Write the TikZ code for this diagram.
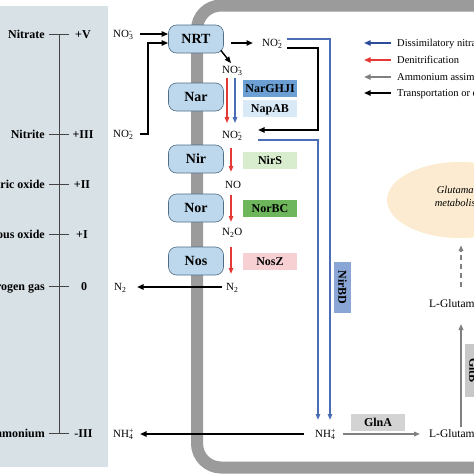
\documentclass[tikz,border=0pt]{standalone}
\usepackage{fontspec}
\setmainfont{Liberation Serif}
\usetikzlibrary{arrows.meta,shapes.geometric,calc}
\definecolor{panelc}{HTML}{D8E1E6}
\definecolor{cellgray}{HTML}{9B9B9B}
\definecolor{nodefill}{HTML}{BDD8EC}
\definecolor{nodeline}{HTML}{4F6D86}
\definecolor{narblue}{HTML}{6C9FD3}
\definecolor{napblue}{HTML}{D9E9F6}
\definecolor{nirgreen}{HTML}{D8EDCE}
\definecolor{norgreen}{HTML}{6DB65C}
\definecolor{nospink}{HTML}{F7D0D4}
\definecolor{nirbdblue}{HTML}{8AA6D6}
\definecolor{glnagray}{HTML}{D3D3D3}
\definecolor{gltgray}{HTML}{C8C8C8}
\definecolor{ellfill}{HTML}{FCEBD0}
\definecolor{dnrablue}{HTML}{4A6DB5}
\definecolor{legblue}{HTML}{2C4C9C}
\definecolor{denred}{HTML}{E53935}
\definecolor{assgray}{HTML}{808080}
\definecolor{axisc}{HTML}{444444}
\newcommand\chemss[2]{\makebox[0pt][l]{\textsuperscript{#2}}\textsubscript{#1}\hspace{1.5pt}}
\newcommand\chemsb[1]{\textsubscript{#1}}
\begin{document}
\begin{tikzpicture}[x=1pt,y=-1pt,
  tip/.style={-{Triangle[length=6.5pt,width=5.2pt]}},
  blk/.style={tip, line width=1.8pt, black},
  redar/.style={-{Triangle[length=6pt,width=4.4pt]}, line width=1.6pt, denred},
  bluear/.style={-{Triangle[length=6pt,width=4.4pt]}, line width=1.5pt, dnrablue},
  grayar/.style={-{Triangle[length=6pt,width=4.6pt]}, line width=1.6pt, assgray},
  lab/.style={inner sep=0pt, text height=8.1pt, text depth=0pt, font=\fontsize{12}{12}\selectfont\bfseries},
  chem/.style={inner sep=0pt, text height=7.3pt, text depth=0pt, font=\fontsize{11}{11}\selectfont, anchor=west},
  big/.style={inner sep=0pt, text height=7.8pt, text depth=0pt, font=\fontsize{11.5}{11.5}\selectfont, anchor=west},
  cellnode/.style={draw=nodeline, line width=0.6pt, fill=nodefill, rounded corners=8pt,
     minimum width=55pt, minimum height=28pt, inner sep=0pt, text height=9.5pt, text depth=0pt,
     font=\fontsize{14}{14}\selectfont\bfseries},
  enz/.style={minimum width=54pt, minimum height=17pt, inner sep=0pt, text height=8.1pt, text depth=0pt,
     font=\fontsize{12}{12}\selectfont\bfseries},
  legtext/.style={inner sep=0pt, text height=7pt, text depth=0pt, font=\fontsize{10.5}{10.5}\selectfont, anchor=west},
  tick/.style={axisc, line width=0.9pt}
]
\useasboundingbox (0,0) rectangle (474,474);
\clip (0,0) rectangle (474,474);
\fill[white] (0,0) rectangle (474,474);
% left panel
\fill[panelc] (-5,6) rectangle (108,467);
\draw[tick] (59,34) -- (59,433);
\foreach \yy in {34,134,184,234,286,433} { \draw[tick] (49,\yy) -- (69,\yy); }
\node[lab, anchor=east] (lnitrate) at (45,34) {Nitrate};
\node[lab, anchor=east] (lnitrite) at (45,134) {Nitrite};
\node[lab, anchor=east] (lno) at (45,184) {Nitric oxide};
\node[lab, anchor=east] (ln2o) at (45,234) {Nitrous oxide};
\node[lab, anchor=east] (ln2) at (45,286) {Nitrogen gas};
\node[lab, anchor=east] (lnh4) at (45,433) {Ammonium};
\node[lab] (vnitrate) at (83,34) {+V};
\node[lab] (vnitrite) at (83,134) {+III};
\node[lab] (vno) at (82,184) {+II};
\node[lab] (vn2o) at (82,234) {+I};
\node[lab] (vn2) at (84,286) {0};
\node[lab] (vnh4) at (83.5,433) {-III};
% cell
\draw[cellgray, line width=12pt, rounded corners=24pt] (197,5.5) rectangle (560,467.5);
% ellipse
\node[ellipse, fill=ellfill, minimum width=146pt, minimum height=76pt] (glmet) at (460,200) {};
\node[align=center, inner sep=0pt, font=\fontsize{10.5}{13}\selectfont\itshape] (glmettext) at (459,196.5) {Glutamate\\metabolism};
% chemical texts
\node[chem] (no3l) at (113,34) {NO\chemss{3}{-}};
\node[chem] (no2l) at (113,134) {NO\chemss{2}{-}};
\node[chem] (n2l) at (114,287) {N\chemsb{2}};
\node[chem] (nh4l) at (113,434) {NH\chemss{4}{+}};
\node[chem] (no2r) at (262,43) {NO\chemss{2}{-}};
\node[chem] (no3m) at (222,70) {NO\chemss{3}{-}};
\node[chem] (no2m) at (222,135) {NO\chemss{2}{-}};
\node[chem] (no) at (225,185) {NO};
\node[chem] (n2o) at (222,232) {N\chemsb{2}O};
\node[chem] (n2r) at (226,287) {N\chemsb{2}};
\node[chem] (nh4r) at (315,434) {NH\chemss{4}{+}};
\node[big] (lglnb) at (429,434) {L-Glutamine};
\node[big] (lglut) at (429,304) {L-Glutamate};
% cell nodes
\node[cellnode] (nrt) at (196,39) {NRT};
\node[cellnode] (nar) at (196,97) {Nar};
\node[cellnode] (nir) at (196,159) {Nir};
\node[cellnode] (nor) at (196,208) {Nor};
\node[cellnode] (nos) at (196,261) {Nos};
% enzyme boxes
\node[enz, fill=narblue] (narghji) at (270,88) {NarGHJI};
\node[enz, fill=napblue] (napab) at (270,108.5) {NapAB};
\node[enz, fill=nirgreen] (nirs) at (270,160) {NirS};
\node[enz, fill=norgreen] (norbc) at (270,208.5) {NorBC};
\node[enz, fill=nospink] (nosz) at (270,261) {NosZ};
\node[enz, fill=nirbdblue, minimum width=51pt, rotate=-90] (nirbd) at (342.5,287.5) {NirBD};
\node[enz, fill=glnagray] (glna) at (378,422.5) {GlnA};
\node[enz, fill=gltgray, minimum width=53pt, rotate=-90] (gltb) at (473.5,370.5) {GltB};
% transport arrows
\draw[blk] ([xshift=27pt]no3l.west) -- (no3l.west -| nrt.west);
\draw[blk] ([xshift=27pt]no2l.west) -- ++(8,0) |- ([yshift=-4pt]nrt.west);
\draw[blk] ([xshift=7pt,yshift=-4pt]nrt.east) -- ([xshift=-9pt]no2r.west);
\draw[blk, line width=1.4pt] ([xshift=-3pt,yshift=3pt]nrt.south east) -- ([xshift=9pt,yshift=3pt]no3m.north west);
\draw[blk] ([xshift=25pt,yshift=-5pt]no2r.west) -- ++(31,0) |- ([xshift=36pt,yshift=5pt]no2m.west);
\draw[blk] ([xshift=-4pt]n2r.west) -- ([xshift=23pt]n2l.west);
\draw[blk] ([xshift=-11pt]nh4r.west) -- ([xshift=27pt]nh4l.west);
% denitrification
\draw[redar] ([xshift=5pt,yshift=-4.5pt]no3m.south west) -- ([xshift=5pt,yshift=8pt]no2m.north west);
\draw[redar] ([xshift=9pt,yshift=-13pt]no2m.west) -- ([xshift=6pt,yshift=13pt]no.west);
\draw[redar] ([xshift=6pt,yshift=-10pt]no.west) -- ([xshift=9pt,yshift=10pt]n2o.west);
\draw[redar] ([xshift=9pt,yshift=-15pt]n2o.west) -- ([xshift=5pt,yshift=13pt]n2r.west);
% DNRA
\draw[bluear] ([xshift=13pt,yshift=-4.5pt]no3m.south west) -- ([xshift=13pt,yshift=8pt]no2m.north west);
\draw[bluear] ([xshift=25pt,yshift=4pt]no2r.west) -| ([xshift=15pt,yshift=14pt]nh4r.west);
\draw[bluear] ([xshift=36pt,yshift=-5pt]no2m.west) -| ([xshift=3pt,yshift=14pt]nh4r.west);
% assimilation
\draw[grayar] ([xshift=28pt]nh4r.west) -- ([xshift=-9pt]lglnb.west);
\draw[grayar] ([xshift=32pt,yshift=7pt]lglnb.west) -- ([xshift=32pt,yshift=-20pt]lglut.west);
\draw[grayar, dash pattern=on 5pt off 4pt] ([xshift=32pt,yshift=17pt]lglut.west) -- ([xshift=1pt,yshift=-7pt]glmet.south);
% legend
\node[legtext] (leg1) at (397,43) {Dissimilatory nitrate reduction to ammonium};
\node[legtext] (leg2) at (397,60) {Denitrification};
\node[legtext] (leg3) at (397,77) {Ammonium assimilation};
\node[legtext] (leg4) at (397,93) {Transportation or efflux};
\draw[tip, line width=1.6pt, legblue] ([xshift=-6pt]leg1.west) -- ++(-27,0);
\draw[tip, line width=1.6pt, denred] ([xshift=-6pt]leg2.west) -- ++(-27,0);
\draw[tip, line width=1.6pt, assgray] ([xshift=-6pt]leg3.west) -- ++(-27,0);
\draw[tip, line width=1.6pt, black] ([xshift=-6pt]leg4.west) -- ++(-27,0);
\end{tikzpicture}
\end{document}
